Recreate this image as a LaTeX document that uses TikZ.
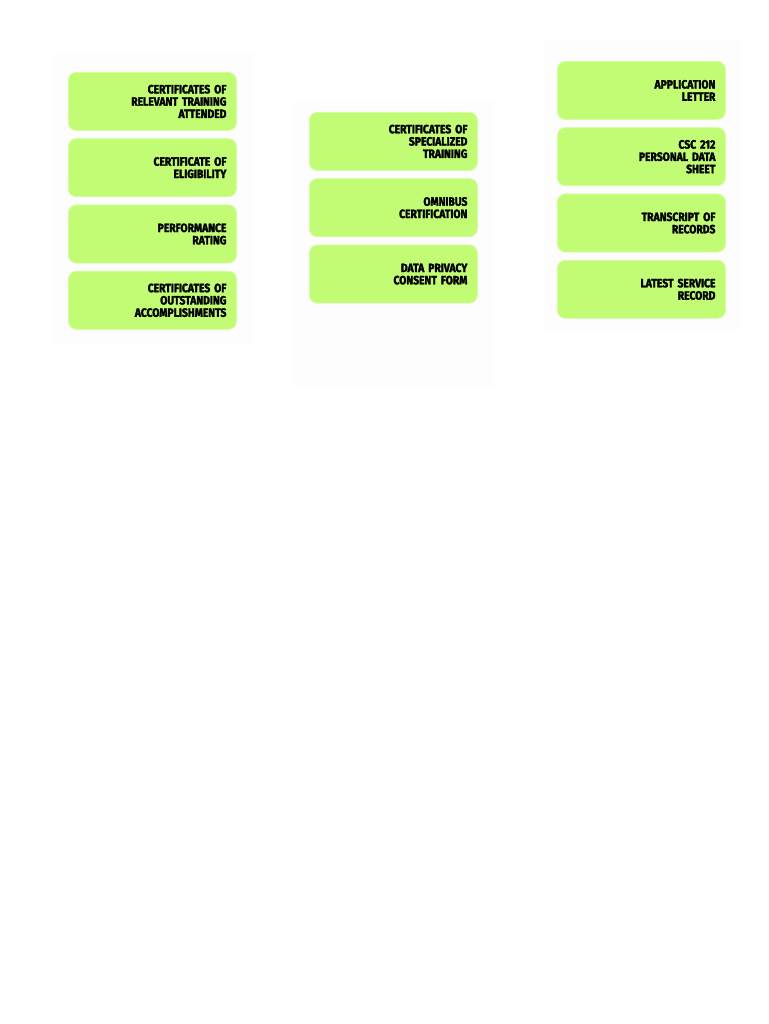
\documentclass[tikz,border=0pt]{standalone}
\usepackage{fontspec}
\newfontfamily\boxfont[FakeStretch=0.86,FakeBold=2.5]{Fira Sans Bold}
\usepackage{tikz}
\usetikzlibrary{positioning}
\definecolor{docgreen}{HTML}{C2FC74}
\definecolor{panelgray}{HTML}{FDFDFD}
\tikzset{
	docbox/.style={shape=rectangle,rounded corners=8pt,fill=docgreen,draw=docgreen!70!white,line width=0.8pt,
		text width=148pt,minimum height=58pt,inner xsep=10pt,inner ysep=2pt,align=right,
		font=\boxfont\fontsize{12}{12.3}\selectfont},
	panel/.style={fill=panelgray,draw=none}
}

\begin{document}
\begin{tikzpicture}[x=1pt,y=-1pt]
		\useasboundingbox[fill=white] (0,0) rectangle (768,1024);
		% faint panels behind the columns
		\fill[panel] (53,53) rectangle (253,343);
		\fill[panel] (293,100) rectangle (493,388);
		\fill[panel] (543,40) rectangle (741,330);
		% left column
		\node(training) [docbox,anchor=north west] at (68,72) {CERTIFICATES OF\\RELEVANT TRAINING\\ATTENDED};
		\node(eligib) [docbox,below=7.5pt of training] {CERTIFICATE OF\\ELIGIBILITY};
		\node(rating) [docbox,below=7.5pt of eligib] {PERFORMANCE\\RATING};
		\node(outst) [docbox,below=7.5pt of rating] {CERTIFICATES OF\\OUTSTANDING\\ACCOMPLISHMENTS};
		% middle column
		\node(special) [docbox,anchor=north west] at (309,112) {CERTIFICATES OF\\SPECIALIZED\\TRAINING};
		\node(omnibus) [docbox,below=7.5pt of special] {OMNIBUS\\CERTIFICATION};
		\node(privacy) [docbox,below=7.5pt of omnibus] {DATA PRIVACY\\CONSENT FORM};
		% right column
		\node(letter) [docbox,anchor=north west] at (557,61) {APPLICATION\\LETTER};
		\node(pds) [docbox,below=7.5pt of letter] {CSC 212\\PERSONAL DATA\\SHEET};
		\node(tor) [docbox,below=7.5pt of pds] {TRANSCRIPT OF\\RECORDS};
		\node(service) [docbox,below=7.5pt of tor] {LATEST SERVICE\\RECORD};
\end{tikzpicture}
\end{document}
